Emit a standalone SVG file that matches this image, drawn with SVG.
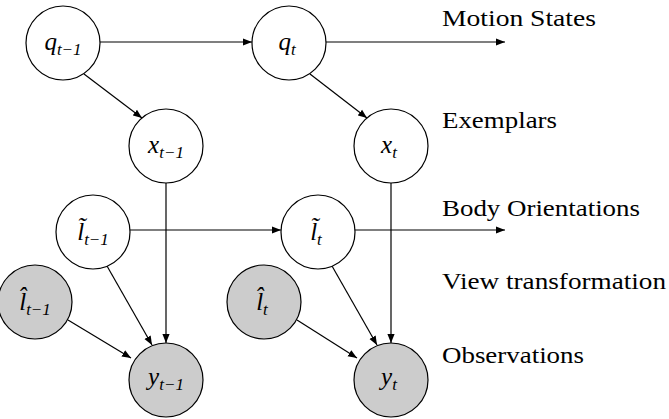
<svg xmlns="http://www.w3.org/2000/svg" width="669" height="419" viewBox="0 0 669 419">
<defs>
<marker id="a" viewBox="0 0 10 10" refX="10" refY="5" markerWidth="9" markerHeight="9" markerUnits="userSpaceOnUse" orient="auto"><path d="M0,1 L10,5 L0,9 z" fill="#000"/></marker>
</defs>
<style>
.n{fill:#fff;stroke:#000;stroke-width:1.2}
.g{fill:#cccccc;stroke:#000;stroke-width:1.2}
.m{font-family:'Liberation Serif','DejaVu Serif',serif;font-style:italic;font-size:25px;text-anchor:middle}
.s{font-size:17px}
.l{font-family:'Liberation Serif','DejaVu Serif',serif;font-size:23px}
.c line{stroke:#000;stroke-width:1.2;marker-end:url(#a)}
</style>
<g class="c" id="connectors">
<line x1="100" y1="42" x2="252" y2="42"/>
<line x1="326" y1="42" x2="505" y2="42"/>
<line x1="84" y1="74" x2="142" y2="118"/>
<line x1="310" y1="74" x2="367" y2="118"/>
<line x1="166" y1="183" x2="166" y2="343"/>
<line x1="391" y1="183" x2="391" y2="343"/>
<line x1="130" y1="230" x2="281" y2="230"/>
<line x1="355" y1="230" x2="505" y2="230"/>
<line x1="107" y1="266" x2="152" y2="345"/>
<line x1="332" y1="266" x2="377" y2="345"/>
<line x1="68" y1="320" x2="131" y2="358"/>
<line x1="297" y1="320" x2="357" y2="358"/>
</g>
<g id="q1"><circle class="n" cx="63" cy="43" r="37"/><text class="m" x="63" y="50">q<tspan class="s" dy="5">t−1</tspan></text></g>
<g id="q2"><circle class="n" cx="289" cy="43" r="37"/><text class="m" x="287" y="50">q<tspan class="s" dy="5">t</tspan></text></g>
<g id="x1"><circle class="n" cx="166" cy="146" r="37"/><text class="m" x="166" y="153">x<tspan class="s" dy="5">t−1</tspan></text></g>
<g id="x2"><circle class="n" cx="391" cy="146" r="37"/><text class="m" x="389" y="153">x<tspan class="s" dy="5">t</tspan></text></g>
<g id="lt1"><circle class="n" cx="93" cy="232" r="37"/><text class="m" x="93" y="240">l̃<tspan class="s" dy="5">t−1</tspan></text></g>
<g id="lt2"><circle class="n" cx="318" cy="232" r="37"/><text class="m" x="316" y="240">l̃<tspan class="s" dy="5">t</tspan></text></g>
<g id="lh1"><circle class="g" cx="35" cy="302" r="37"/><text class="m" x="35" y="310">l̂<tspan class="s" dy="5">t−1</tspan></text></g>
<g id="lh2"><circle class="g" cx="264" cy="302" r="37"/><text class="m" x="262" y="310">l̂<tspan class="s" dy="5">t</tspan></text></g>
<g id="y1"><circle class="g" cx="166" cy="380" r="37"/><text class="m" x="166" y="385">y<tspan class="s" dy="5">t−1</tspan></text></g>
<g id="y2"><circle class="g" cx="391" cy="380" r="37"/><text class="m" x="389" y="385">y<tspan class="s" dy="5">t</tspan></text></g>
<g id="labels">
<text class="l" x="442" y="26" textLength="154" lengthAdjust="spacingAndGlyphs">Motion States</text>
<text class="l" x="442" y="128" textLength="115" lengthAdjust="spacingAndGlyphs">Exemplars</text>
<text class="l" x="442" y="216" textLength="198" lengthAdjust="spacingAndGlyphs">Body Orientations</text>
<text class="l" x="442" y="289" textLength="224" lengthAdjust="spacingAndGlyphs">View transformation</text>
<text class="l" x="442" y="363" textLength="142" lengthAdjust="spacingAndGlyphs">Observations</text>
</g>
</svg>
